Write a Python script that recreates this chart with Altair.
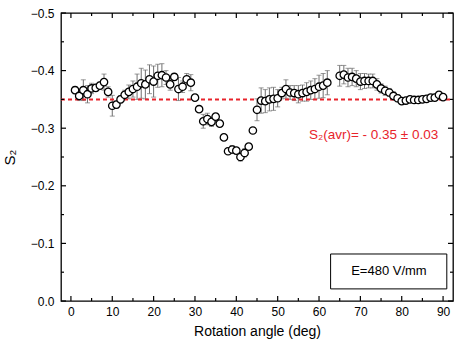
import altair as alt
import pandas as pd

# ---- data ----
angles = list(range(1, 63)) + list(range(65, 91))
s2 = [-0.366, -0.356, -0.366, -0.359, -0.369, -0.370, -0.374, -0.380, -0.363, -0.339,
      -0.341, -0.350, -0.358, -0.363, -0.368, -0.372, -0.378, -0.376, -0.385, -0.381,
      -0.391, -0.392, -0.388, -0.376, -0.389, -0.368, -0.372, -0.385, -0.379, -0.353,
      -0.333, -0.312, -0.316, -0.311, -0.320, -0.308, -0.284, -0.260, -0.263, -0.261,
      -0.250, -0.257, -0.268, -0.296, -0.332, -0.348, -0.347, -0.350, -0.351, -0.352,
      -0.361, -0.368, -0.362, -0.361, -0.359, -0.361, -0.363, -0.366, -0.368, -0.372,
      -0.374, -0.379,
      -0.391, -0.393, -0.388, -0.389, -0.386, -0.381, -0.382, -0.382, -0.382, -0.376,
      -0.369, -0.365, -0.362, -0.356, -0.352, -0.347, -0.348, -0.350, -0.349, -0.349,
      -0.350, -0.351, -0.353, -0.353, -0.358, -0.354]
err = [0.006, 0.008, 0.018, 0.015, 0.009, 0.006, 0.006, 0.014, 0.009, 0.018,
       0.006, 0.006, 0.008, 0.012, 0.014, 0.022, 0.026, 0.025, 0.025, 0.027,
       0.020, 0.020, 0.012, 0.010, 0.006, 0.020, 0.010, 0.010, 0.014, 0.004,
       0.004, 0.012, 0.010, 0.008, 0.005, 0.004, 0.004, 0.004, 0.007, 0.005,
       0.007, 0.007, 0.005, 0.004, 0.019, 0.022, 0.020, 0.020, 0.020, 0.015,
       0.010, 0.016, 0.012, 0.013, 0.015, 0.014, 0.016, 0.016, 0.018, 0.020,
       0.021, 0.021,
       0.018, 0.016, 0.016, 0.015, 0.014, 0.014, 0.013, 0.012, 0.012, 0.010,
       0.008, 0.008, 0.007, 0.007, 0.006, 0.005, 0.005, 0.005, 0.004, 0.004,
       0.004, 0.004, 0.004, 0.004, 0.004, 0.004]

avg_value = -0.35
avg_label = "S\u2082(avr)= - 0.35 \u00b1 0.03"
field_label = "E=480 V/mm"

x_major = list(range(0, 91, 10))
x_minor = list(range(5, 91, 10))
y_major = [0.0, -0.1, -0.2, -0.3, -0.4, -0.5]
y_minor = [-0.05, -0.15, -0.25, -0.35, -0.45]

FONT = "Liberation Sans"
RED = "#e8232b"
GREY = "#6e6e6e"
W, H = 392, 288

df = pd.DataFrame({"x": angles, "y": s2, "e": err})
df["lo"] = df["y"] - df["e"]
df["hi"] = df["y"] + df["e"]

xs = alt.Scale(domain=[-2.4, 92.4], nice=False, zero=False)
ys = alt.Scale(domain=[-0.5, 0.0], reverse=True, nice=False, zero=False)

xax = alt.Axis(values=x_major, title="Rotation angle (deg)", domain=False, ticks=False,
               grid=False, labelFont=FONT, labelFontSize=12, labelColor="black",
               labelPadding=5, titleFont=FONT, titleFontSize=14, titleFontWeight="normal",
               titleColor="black", titlePadding=7)
yax = alt.Axis(values=y_major, format=".1f", title="S\u2082", domain=False, ticks=False,
               grid=False, labelFont=FONT, labelFontSize=12, labelColor="black",
               labelPadding=7, titleFont=FONT, titleFontSize=15, titleFontWeight="normal",
               titleColor="black", titlePadding=13)

base = alt.Chart(df)

bars = base.mark_rule(color=GREY, strokeWidth=1).encode(
    x=alt.X("x:Q", scale=xs, axis=xax),
    y=alt.Y("lo:Q", scale=ys, axis=yax),
    y2="hi:Q",
)
caps_lo = base.mark_tick(color=GREY, orient="horizontal", size=5, thickness=1).encode(
    x=alt.X("x:Q", scale=xs), y=alt.Y("lo:Q", scale=ys))
caps_hi = base.mark_tick(color=GREY, orient="horizontal", size=5, thickness=1).encode(
    x=alt.X("x:Q", scale=xs), y=alt.Y("hi:Q", scale=ys))

avg_line = alt.Chart(pd.DataFrame({"v": [avg_value]})).mark_rule(
    color=RED, strokeWidth=2, strokeDash=[4, 3]).encode(
    y=alt.Y("v:Q", scale=ys), x=alt.value(0), x2=alt.value(W))

pts = base.mark_point(shape="circle", filled=False, fill="white", fillOpacity=1,
                      stroke="black", strokeWidth=1.3, size=55, opacity=1).encode(
    x=alt.X("x:Q", scale=xs), y=alt.Y("y:Q", scale=ys))

# inner ticks
xmaj = pd.DataFrame({"t": x_major})
xmin = pd.DataFrame({"t": x_minor})
ymaj = pd.DataFrame({"t": y_major})
ymin = pd.DataFrame({"t": y_minor})

def xticks(d, ln):
    b = alt.Chart(d).mark_rule(color="black", strokeWidth=1.2)
    return (b.encode(x=alt.X("t:Q", scale=xs), y=alt.value(H), y2=alt.value(H - ln)) +
            b.encode(x=alt.X("t:Q", scale=xs), y=alt.value(0), y2=alt.value(ln)))

def yticks(d, ln):
    b = alt.Chart(d).mark_rule(color="black", strokeWidth=1.2)
    return (b.encode(y=alt.Y("t:Q", scale=ys), x=alt.value(0), x2=alt.value(ln)) +
            b.encode(y=alt.Y("t:Q", scale=ys), x=alt.value(W), x2=alt.value(W - ln)))

ticks = xticks(xmaj, 5) + xticks(xmin, 3) + yticks(ymaj, 5) + yticks(ymin, 3)

avg_text = alt.Chart(pd.DataFrame({"a": [avg_label]})).mark_text(
    font=FONT, fontSize=13.5, color=RED, align="center", baseline="middle").encode(
    x=alt.datum(73.2, scale=xs), y=alt.datum(-0.288, scale=ys), text="a:N")

box = alt.Chart(pd.DataFrame({"a": [field_label]})).mark_rect(
    fill="white", stroke="black", strokeWidth=1).encode(
    x=alt.datum(62.8, scale=xs), x2=alt.datum(90.9),
    y=alt.datum(-0.0816, scale=ys), y2=alt.datum(-0.021))
box_text = alt.Chart(pd.DataFrame({"a": [field_label]})).mark_text(
    font=FONT, fontSize=13, color="black", align="center", baseline="middle").encode(
    x=alt.datum(76.9, scale=xs), y=alt.datum(-0.052, scale=ys), text="a:N")

chart = alt.layer(bars, caps_lo, caps_hi, avg_line, pts, ticks, avg_text, box, box_text).properties(
    width=W, height=H,
    padding={"left": 61, "top": 13, "right": 21, "bottom": 42},
    autosize="none",
    background="white",
).configure_view(stroke="black", strokeWidth=1.3)

chart.save("out.html", embed_options={"renderer": "svg", "actions": False})
